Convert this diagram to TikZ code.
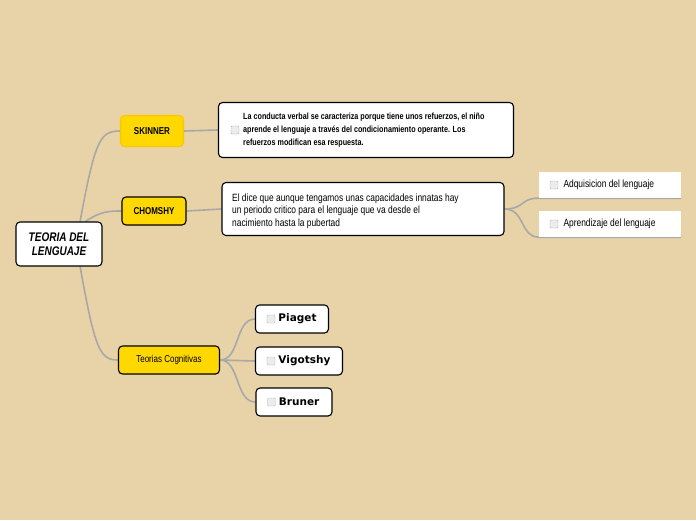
\documentclass[tikz,border=0pt]{standalone}
\usepackage{fontspec}
\usetikzlibrary{backgrounds}
\setmainfont{Liberation Sans}
\newfontfamily\cond[FakeStretch=0.8]{Liberation Sans}
\newfontfamily\dv{DejaVu Sans}
\definecolor{bg}{HTML}{E8D3A8}
\definecolor{yel}{HTML}{FFD800}
\definecolor{lnk}{HTML}{A8A8A8}
\pgfdeclarelayer{bgfill}
\pgfsetlayers{bgfill,background,main}
\begin{document}
\begin{tikzpicture}[x=1pt,y=-1pt,
  box/.style={draw=black,line width=1.1pt,rounded corners=4pt,fill=white,inner sep=0pt,font=\cond\fontsize{10}{12}\selectfont},
  ybox/.style={box,fill=yel},
  sbox/.style={fill=white,inner sep=0pt},
  lnk/.style={draw=lnk,line width=1.6pt},
  cb/.style={draw=gray!60,fill=gray!15,rounded corners=1pt,minimum size=8pt,inner sep=0pt}]
\begin{pgfonlayer}{bgfill}
\fill[bg] (0,0) rectangle (696,520);
\end{pgfonlayer}
\node[box,minimum width=86pt,minimum height=44pt,align=center,font=\cond\bfseries\itshape\fontsize{12.5}{13.5}\selectfont] (root) at (59,244) {TEORIA DEL\\LENGUAJE};
\node[ybox,draw=yel!80!orange,minimum width=63pt,minimum height=31pt,font=\cond\bfseries\fontsize{10}{12}\selectfont] (sk) at (152,131) {SKINNER};
\node[box,minimum width=295pt,minimum height=55pt] (skt) at (366,130) {};
\node[cb] (skc) at (235,130) {};
\node[anchor=west,align=left,inner sep=0pt,font=\cond\bfseries\fontsize{9}{13}\selectfont] (sktx) at (243,130) {La conducta verbal se caracteriza porque tiene unos refuerzos, el niño\\aprende el lenguaje a través del condicionamiento operante. Los\\refuerzos modifican esa respuesta.};
\node[ybox,minimum width=64pt,minimum height=28pt,font=\cond\bfseries\fontsize{10}{12}\selectfont] (ch) at (154,211) {CHOMSHY};
\node[box,minimum width=282pt,minimum height=53pt] (cht) at (363,209) {};
\node[anchor=west,align=left,inner sep=0pt,font=\cond\fontsize{10.5}{12.5}\selectfont] (chtx) at (232,211) {El dice que aunque tengamos unas capacidades innatas hay\\un periodo critico para el lenguaje que va desde el\\nacimiento hasta la pubertad};
\node[sbox,minimum width=142pt,minimum height=26pt] (ad) at (610,185) {};
\node[cb] at (554,185) {};
\node[anchor=west,font=\cond\fontsize{10.5}{12}\selectfont] at (560,185) {Adquisicion del lenguaje};
\node[sbox,minimum width=142pt,minimum height=26pt] (ap) at (610,224) {};
\node[cb] at (554,224) {};
\node[anchor=west,font=\cond\fontsize{10.5}{12}\selectfont] at (560,224) {Aprendizaje del lenguaje};
\node[ybox,minimum width=101pt,minimum height=28pt,font=\cond\fontsize{10}{12}\selectfont] (tc) at (169,360) {Teorias Cognitivas};
\node[box,minimum width=73pt,minimum height=28pt] (pi) at (292,319) {};
\node[box,minimum width=87pt,minimum height=28pt] (vi) at (299,361) {};
\node[box,minimum width=76pt,minimum height=28pt] (br) at (294,402) {};
\foreach \n/\t in {pi/Piaget,vi/Vigotshy,br/Bruner}{
  \node[cb] at ([xshift=16pt]\n.west) {};
  \node[anchor=west,font=\dv\bfseries\fontsize{10.5}{12}\selectfont] at ([xshift=20pt]\n.west) {\t};}
\begin{pgfonlayer}{background}
\draw[lnk] (80,222) .. controls (95,140) and (100,131) .. (sk.west);
\draw[lnk] (85,222) .. controls (100,211) and (110,211) .. (ch.west);
\draw[lnk] (80,266) .. controls (95,350) and (100,360) .. (tc.west);
\draw[lnk] (sk.east) -- (skt.west);
\draw[lnk] (ch.east) -- (cht.west);
\draw[lnk] (cht.east) .. controls (525,209) and (520,198) .. (ad.south west) -- (ad.south east);
\draw[lnk] (cht.east) .. controls (525,209) and (520,237) .. (ap.south west) -- (ap.south east);
\draw[lnk] (tc.east) .. controls (240,360) and (235,319) .. (pi.west);
\draw[lnk] (tc.east) -- (vi.west);
\draw[lnk] (tc.east) .. controls (240,360) and (235,402) .. (br.west);
\end{pgfonlayer}
\end{tikzpicture}
\end{document}
